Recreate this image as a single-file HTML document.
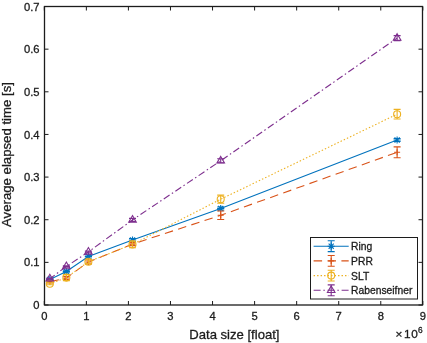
<!DOCTYPE html><html><head><meta charset="utf-8"><style>html,body{margin:0;padding:0;background:#fff;}svg{display:block;}text{font-family:"Liberation Sans",Arial,sans-serif;fill:#1c1c1c;stroke:#1c1c1c;stroke-width:0.3px;}</style></head><body>
<svg width="427" height="343" viewBox="0 0 427 343">
<rect width="427" height="343" fill="#fff"/>
<polyline points="49.81,279.5 66.35,271.5 88.4,256.5 132.51,240 220.71,208.5 397.12,140" fill="none" stroke="#0072BD" stroke-width="1.1"/>
<path d="M49.81 278.3V280.7M46.31 278.3H53.31M46.31 280.7H53.31" fill="none" stroke="#0072BD" stroke-width="1.1"/>
<path d="M66.35 270.3V272.7M62.85 270.3H69.85M62.85 272.7H69.85" fill="none" stroke="#0072BD" stroke-width="1.1"/>
<path d="M88.4 255V258M84.9 255H91.9M84.9 258H91.9" fill="none" stroke="#0072BD" stroke-width="1.1"/>
<path d="M132.51 238.5V241.5M129.01 238.5H136.01M129.01 241.5H136.01" fill="none" stroke="#0072BD" stroke-width="1.1"/>
<path d="M220.71 207V210M217.21 207H224.21M217.21 210H224.21" fill="none" stroke="#0072BD" stroke-width="1.1"/>
<path d="M397.12 138.5V141.5M393.62 138.5H400.62M393.62 141.5H400.62" fill="none" stroke="#0072BD" stroke-width="1.1"/>
<path d="M46.21 279.5H53.41M49.81 275.9V283.1M47.27 276.95L52.36 282.05M47.27 282.05L52.36 276.95" fill="none" stroke="#0072BD" stroke-width="1.1"/>
<path d="M62.75 271.5H69.95M66.35 267.9V275.1M63.81 268.95L68.9 274.05M63.81 274.05L68.9 268.95" fill="none" stroke="#0072BD" stroke-width="1.1"/>
<path d="M84.8 256.5H92M88.4 252.9V260.1M85.86 253.95L90.95 259.05M85.86 259.05L90.95 253.95" fill="none" stroke="#0072BD" stroke-width="1.1"/>
<path d="M128.91 240H136.11M132.51 236.4V243.6M129.96 237.45L135.05 242.55M129.96 242.55L135.05 237.45" fill="none" stroke="#0072BD" stroke-width="1.1"/>
<path d="M217.11 208.5H224.31M220.71 204.9V212.1M218.17 205.95L223.26 211.05M218.17 211.05L223.26 205.95" fill="none" stroke="#0072BD" stroke-width="1.1"/>
<path d="M393.52 140H400.72M397.12 136.4V143.6M394.58 137.45L399.67 142.55M394.58 142.55L399.67 137.45" fill="none" stroke="#0072BD" stroke-width="1.1"/>
<polyline points="49.81,281.8 66.35,278 88.4,262 132.51,244.1 220.71,215.3 397.12,152.3" fill="none" stroke="#D95319" stroke-width="1.1" stroke-dasharray="8.5 5.4" stroke-dashoffset="13.1"/>
<path d="M49.81 280.6V283M46.31 280.6H53.31M46.31 283H53.31" fill="none" stroke="#D95319" stroke-width="1.1"/>
<path d="M66.35 276.5V279.5M62.85 276.5H69.85M62.85 279.5H69.85" fill="none" stroke="#D95319" stroke-width="1.1"/>
<path d="M88.4 260V264M84.9 260H91.9M84.9 264H91.9" fill="none" stroke="#D95319" stroke-width="1.1"/>
<path d="M132.51 242.6V245.6M129.01 242.6H136.01M129.01 245.6H136.01" fill="none" stroke="#D95319" stroke-width="1.1"/>
<path d="M220.71 211.05V219.55M217.21 211.05H224.21M217.21 219.55H224.21" fill="none" stroke="#D95319" stroke-width="1.1"/>
<path d="M397.12 146.9V157.7M393.62 146.9H400.62M393.62 157.7H400.62" fill="none" stroke="#D95319" stroke-width="1.1"/>
<path d="M46.81 281.8H52.81M49.81 278.8V284.8" fill="none" stroke="#D95319" stroke-width="1.1"/>
<path d="M63.35 278H69.35M66.35 275V281" fill="none" stroke="#D95319" stroke-width="1.1"/>
<path d="M85.4 262H91.4M88.4 259V265" fill="none" stroke="#D95319" stroke-width="1.1"/>
<path d="M129.51 244.1H135.51M132.51 241.1V247.1" fill="none" stroke="#D95319" stroke-width="1.1"/>
<path d="M217.71 215.3H223.71M220.71 212.3V218.3" fill="none" stroke="#D95319" stroke-width="1.1"/>
<path d="M394.12 152.3H400.12M397.12 149.3V155.3" fill="none" stroke="#D95319" stroke-width="1.1"/>
<polyline points="49.81,283.8 66.35,277.6 88.4,261.8 132.51,244.4 220.71,199.2 397.12,114.2" fill="none" stroke="#EDB120" stroke-width="1.1" stroke-dasharray="1.45 2.04" stroke-dashoffset="0.19"/>
<path d="M49.81 282.8V284.8M46.31 282.8H53.31M46.31 284.8H53.31" fill="none" stroke="#EDB120" stroke-width="1.1"/>
<path d="M66.35 274.6V280.6M62.85 274.6H69.85M62.85 280.6H69.85" fill="none" stroke="#EDB120" stroke-width="1.1"/>
<path d="M88.4 259.8V263.8M84.9 259.8H91.9M84.9 263.8H91.9" fill="none" stroke="#EDB120" stroke-width="1.1"/>
<path d="M132.51 241V247.8M129.01 241H136.01M129.01 247.8H136.01" fill="none" stroke="#EDB120" stroke-width="1.1"/>
<path d="M220.71 195.1V203.3M217.21 195.1H224.21M217.21 203.3H224.21" fill="none" stroke="#EDB120" stroke-width="1.1"/>
<path d="M397.12 109.4V119M393.62 109.4H400.62M393.62 119H400.62" fill="none" stroke="#EDB120" stroke-width="1.1"/>
<circle cx="49.81" cy="283.8" r="3.5" fill="none" stroke="#EDB120" stroke-width="1.1"/>
<circle cx="66.35" cy="277.6" r="3.5" fill="none" stroke="#EDB120" stroke-width="1.1"/>
<circle cx="88.4" cy="261.8" r="3.5" fill="none" stroke="#EDB120" stroke-width="1.1"/>
<circle cx="132.51" cy="244.4" r="3.5" fill="none" stroke="#EDB120" stroke-width="1.1"/>
<circle cx="220.71" cy="199.2" r="3.5" fill="none" stroke="#EDB120" stroke-width="1.1"/>
<circle cx="397.12" cy="114.2" r="3.5" fill="none" stroke="#EDB120" stroke-width="1.1"/>
<polyline points="49.81,278.7 66.35,266.5 88.4,251.9 132.51,219.9 220.71,160.8 397.12,38.1" fill="none" stroke="#7E2F8E" stroke-width="1.1" stroke-dasharray="7 2.75 1.5 2.75" stroke-dashoffset="0.9"/>
<path d="M49.81 278.3V279.1M46.31 278.3H53.31M46.31 279.1H53.31" fill="none" stroke="#7E2F8E" stroke-width="1.1"/>
<path d="M66.35 265.9V267.1M62.85 265.9H69.85M62.85 267.1H69.85" fill="none" stroke="#7E2F8E" stroke-width="1.1"/>
<path d="M88.4 251.1V252.7M84.9 251.1H91.9M84.9 252.7H91.9" fill="none" stroke="#7E2F8E" stroke-width="1.1"/>
<path d="M132.51 218.4V221.4M129.01 218.4H136.01M129.01 221.4H136.01" fill="none" stroke="#7E2F8E" stroke-width="1.1"/>
<path d="M220.71 158.8V162.8M217.21 158.8H224.21M217.21 162.8H224.21" fill="none" stroke="#7E2F8E" stroke-width="1.1"/>
<path d="M397.12 35.6V40.6M393.62 35.6H400.62M393.62 40.6H400.62" fill="none" stroke="#7E2F8E" stroke-width="1.1"/>
<path d="M49.81 274.3L53.62 280.9H46Z" fill="none" stroke="#7E2F8E" stroke-width="1.1" stroke-linejoin="miter"/>
<path d="M66.35 262.1L70.16 268.7H62.54Z" fill="none" stroke="#7E2F8E" stroke-width="1.1" stroke-linejoin="miter"/>
<path d="M88.4 247.5L92.21 254.1H84.59Z" fill="none" stroke="#7E2F8E" stroke-width="1.1" stroke-linejoin="miter"/>
<path d="M132.51 215.5L136.32 222.1H128.7Z" fill="none" stroke="#7E2F8E" stroke-width="1.1" stroke-linejoin="miter"/>
<path d="M220.71 156.4L224.52 163H216.9Z" fill="none" stroke="#7E2F8E" stroke-width="1.1" stroke-linejoin="miter"/>
<path d="M397.12 33.7L400.94 40.3H393.31Z" fill="none" stroke="#7E2F8E" stroke-width="1.1" stroke-linejoin="miter"/>
<path d="M44.3 305V301M44.3 6.5V10.5M86.36 305V301M86.36 6.5V10.5M128.42 305V301M128.42 6.5V10.5M170.48 305V301M170.48 6.5V10.5M212.54 305V301M212.54 6.5V10.5M254.6 305V301M254.6 6.5V10.5M296.66 305V301M296.66 6.5V10.5M338.72 305V301M338.72 6.5V10.5M380.78 305V301M380.78 6.5V10.5M422.84 305V301M422.84 6.5V10.5M44.5 305H48.5M422.5 305H418.5M44.5 262.36H48.5M422.5 262.36H418.5M44.5 219.72H48.5M422.5 219.72H418.5M44.5 177.08H48.5M422.5 177.08H418.5M44.5 134.44H48.5M422.5 134.44H418.5M44.5 91.8H48.5M422.5 91.8H418.5M44.5 49.16H48.5M422.5 49.16H418.5M44.5 6.52H48.5M422.5 6.52H418.5" stroke="#1c1c1c" stroke-width="1" fill="none"/>
<rect x="44.5" y="6.5" width="378.0" height="298.5" fill="none" stroke="#1c1c1c" stroke-width="1.3"/>
<g font-size="11.2">
<text x="44.3" y="319.9" text-anchor="middle">0</text>
<text x="86.36" y="319.9" text-anchor="middle">1</text>
<text x="128.42" y="319.9" text-anchor="middle">2</text>
<text x="170.48" y="319.9" text-anchor="middle">3</text>
<text x="212.54" y="319.9" text-anchor="middle">4</text>
<text x="254.6" y="319.9" text-anchor="middle">5</text>
<text x="296.66" y="319.9" text-anchor="middle">6</text>
<text x="338.72" y="319.9" text-anchor="middle">7</text>
<text x="380.78" y="319.9" text-anchor="middle">8</text>
<text x="422.84" y="319.9" text-anchor="middle">9</text>
<text x="39.6" y="309.1" text-anchor="end">0</text>
<text x="39.6" y="266.46" text-anchor="end">0.1</text>
<text x="39.6" y="223.82" text-anchor="end">0.2</text>
<text x="39.6" y="181.18" text-anchor="end">0.3</text>
<text x="39.6" y="138.54" text-anchor="end">0.4</text>
<text x="39.6" y="95.9" text-anchor="end">0.5</text>
<text x="39.6" y="53.26" text-anchor="end">0.6</text>
<text x="39.6" y="10.62" text-anchor="end">0.7</text>
</g>
<text x="234.4" y="338.5" font-size="13.1" text-anchor="middle">Data size [float]</text>
<text transform="translate(10.5,154.5) rotate(-90)" x="0" y="0" font-size="13.2" text-anchor="middle">Average elapsed time [s]</text>
<text x="395.6" y="338.2" font-size="11.8">×</text>
<text x="404.0" y="337.9" font-size="11.8" letter-spacing="0.7">10</text>
<text x="417.9" y="332.6" font-size="8.3">6</text>
<rect x="310.5" y="237.5" width="107.0" height="61.5" fill="#fff" stroke="#1c1c1c" stroke-width="1"/>
<path d="M313.6 246.2H348.7" stroke="#0072BD" stroke-width="1.1" fill="none"/>
<path d="M331.2 240.8V251.6M327.7 240.8H334.7M327.7 251.6H334.7" fill="none" stroke="#0072BD" stroke-width="1.1"/>
<path d="M327.6 246.2H334.8M331.2 242.6V249.8M328.65 243.65L333.75 248.75M328.65 248.75L333.75 243.65" fill="none" stroke="#0072BD" stroke-width="1.1"/>
<text x="351.1" y="250.2" font-size="10.3">Ring</text>
<path d="M313.6 260.9H348.7" stroke="#D95319" stroke-width="1.1" stroke-dasharray="8.5 5.4" fill="none"/>
<path d="M331.2 255.5V266.3M327.7 255.5H334.7M327.7 266.3H334.7" fill="none" stroke="#D95319" stroke-width="1.1"/>
<path d="M328.2 260.9H334.2M331.2 257.9V263.9" fill="none" stroke="#D95319" stroke-width="1.1"/>
<text x="351.1" y="264.9" font-size="10.3">PRR</text>
<path d="M313.6 275.6H348.7" stroke="#EDB120" stroke-width="1.1" stroke-dasharray="1.45 2.04" fill="none"/>
<path d="M331.2 270.2V281M327.7 270.2H334.7M327.7 281H334.7" fill="none" stroke="#EDB120" stroke-width="1.1"/>
<circle cx="331.2" cy="275.6" r="3.5" fill="none" stroke="#EDB120" stroke-width="1.1"/>
<text x="351.1" y="279.6" font-size="10.3">SLT</text>
<path d="M313.6 290.3H348.7" stroke="#7E2F8E" stroke-width="1.1" stroke-dasharray="7 2.75 1.5 2.75" fill="none"/>
<path d="M331.2 284.9V295.7M327.7 284.9H334.7M327.7 295.7H334.7" fill="none" stroke="#7E2F8E" stroke-width="1.1"/>
<path d="M331.2 285.9L335.01 292.5H327.39Z" fill="none" stroke="#7E2F8E" stroke-width="1.1" stroke-linejoin="miter"/>
<text x="351.1" y="294.3" font-size="10.3">Rabenseifner</text>
</svg></body></html>
